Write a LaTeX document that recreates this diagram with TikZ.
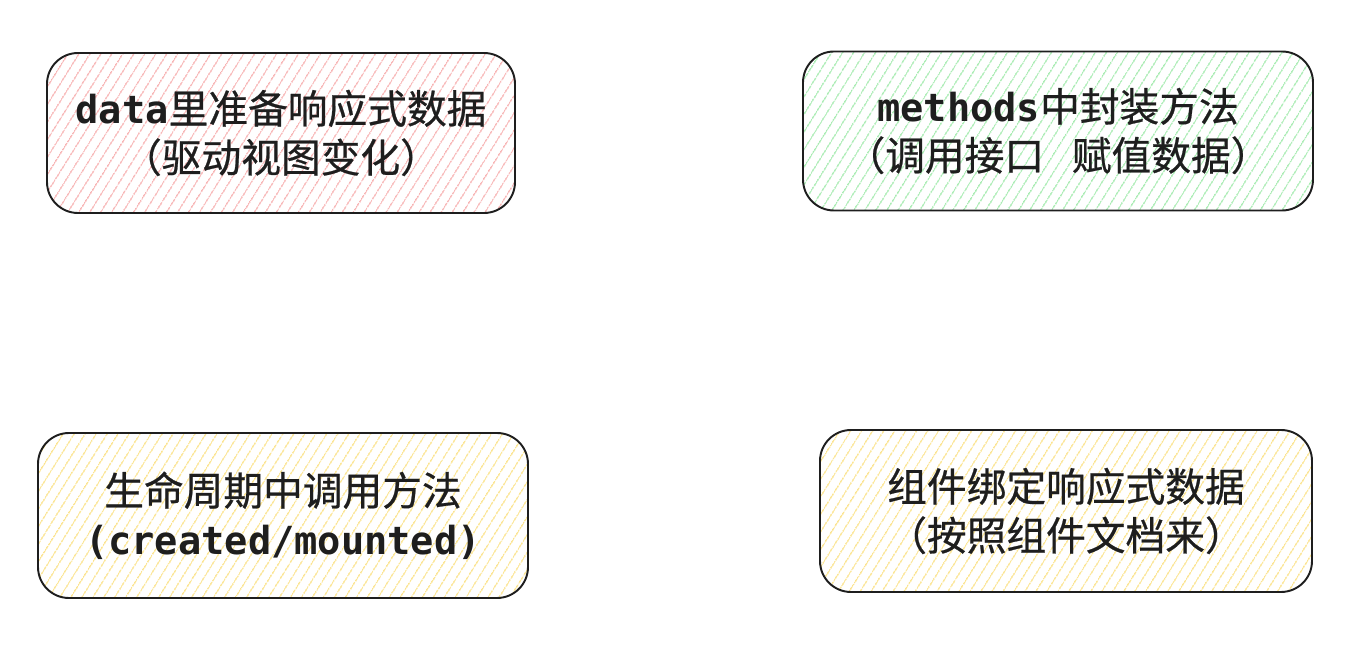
\documentclass[tikz,border=0pt]{standalone}
\usepackage{fontspec}
\newfontfamily\cjk{Noto Sans CJK SC}[FakeBold=0.6]
\setmonofont{DejaVu Sans Mono}
\usepackage{xcolor}
\definecolor{inkDark}{HTML}{1E1E1E}
\definecolor{hatchRed}{HTML}{F7B3B3}
\definecolor{hatchGreen}{HTML}{A6EBB0}
\definecolor{hatchYellow}{HTML}{FBE38C}
\usepackage{tikz}
\usetikzlibrary{patterns.meta, positioning}
\newcommand{\codeword}[1]{{\ttfamily\bfseries\fontsize{22}{28}\selectfont #1}}

\begin{document}
\begin{tikzpicture}[
    notebox/.style={
        rectangle,
        draw=inkDark,
        line width=1.1pt,
        rounded corners=0.62cm,
        inner sep=0pt,
        align=center,
        font=\cjk\fontsize{22.6}{27.8}\selectfont,
        text=inkDark
    },
    hatch/.style={
        pattern={Lines[angle=58, distance=0.18cm, line width=0.7pt]},
        pattern color=#1
    }
]
\useasboundingbox (0,0) rectangle (26.92,-13);

\node[notebox, hatch=hatchRed, minimum width=9.36cm, minimum height=3.2cm] (data) at (5.62,-2.66)
    {\codeword{data}里准备响应式数据\\（驱动视图变化）};
\node[notebox, hatch=hatchGreen, minimum width=10.2cm, minimum height=3.18cm] (methods) at (21.16,-2.62)
    {\codeword{methods}中封装方法\\（调用接口\hspace{0.7em}赋值数据）};
\node[notebox, hatch=hatchYellow, minimum width=9.8cm, minimum height=3.3cm] (lifecycle) at (5.66,-10.31)
    {生命周期中调用方法\\\codeword{(created/mounted)}};
\node[notebox, hatch=hatchYellow, minimum width=9.84cm, minimum height=3.24cm] (binding) at (21.32,-10.22)
    {组件绑定响应式数据\\（按照组件文档来）};
\end{tikzpicture}
\end{document}
